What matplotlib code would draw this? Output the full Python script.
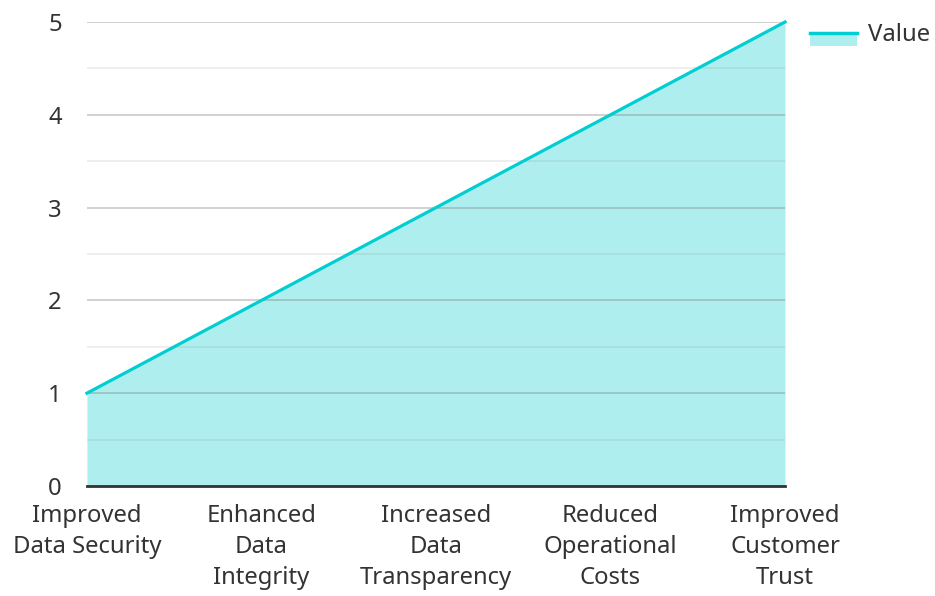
import matplotlib
matplotlib.use("Agg")
import matplotlib.pyplot as plt
from matplotlib.legend_handler import HandlerBase
from matplotlib.patches import Rectangle
from matplotlib.lines import Line2D

categories = ["Improved\nData Security", "Enhanced\nData\nIntegrity",
              "Increased\nData\nTransparency", "Reduced\nOperational\nCosts",
              "Improved\nCustomer\nTrust"]
values = [1, 2, 3, 4, 5]
y_ticks = [0, 1, 2, 3, 4, 5]

line_color = "#00CED1"
fill_color = "#AFEEEE"
text_color = "#333333"
fs = 17.2

plt.rcParams['font.family'] = ['Noto Sans', 'DejaVu Sans']


class AreaHandler(HandlerBase):
    # line on top, filled block underneath, like the reference legend
    def create_artists(self, legend, orig_handle, xdescent, ydescent,
                       width, height, fontsize, trans):
        mid = -ydescent + height * 0.5
        rect = Rectangle((-xdescent, mid - height * 0.8), width, height * 0.8,
                         facecolor=fill_color, edgecolor="none", transform=trans)
        line = Line2D([-xdescent, -xdescent + width], [mid, mid],
                      color=line_color, lw=2.5, transform=trans)
        return [rect, line]


fig = plt.figure(figsize=(9.35, 5.96), dpi=100)
ax = fig.add_axes([0.093, 0.1846, 0.7466, 0.7785])

x = list(range(len(categories)))
area = ax.fill_between(x, values, 0, color=fill_color, lw=0, zorder=1)
ax.plot(x, values, color=line_color, lw=2.3, zorder=3, clip_on=False)

ax.set_xlim(0, len(categories) - 1)
ax.set_ylim(0, 5)
ax.set_yticks(y_ticks)
ax.set_yticks([0.5, 1.5, 2.5, 3.5, 4.5], minor=True)
ax.set_xticks(x)
ax.set_xticklabels(categories, linespacing=1.38)

ax.grid(axis="y", which="major", color="#7a7a7a", alpha=0.4, lw=1.2, zorder=2)
ax.grid(axis="y", which="minor", color="#7a7a7a", alpha=0.15, lw=1.2, zorder=2)
ax.set_axisbelow(False)

for s in ["top", "right", "left"]:
    ax.spines[s].set_visible(False)
ax.spines["bottom"].set_color("#333333")
ax.spines["bottom"].set_linewidth(2)
ax.spines["bottom"].set_zorder(4)

ax.tick_params(axis="both", which="both", length=0, labelsize=fs, colors=text_color)
ax.tick_params(axis="y", pad=18)
ax.tick_params(axis="x", pad=13)

fig.legend([area], ["Value"], handler_map={type(area): AreaHandler()},
           loc="upper left", bbox_to_anchor=(0.866, 0.961), frameon=False,
           borderpad=0, borderaxespad=0,
           fontsize=fs, labelcolor=text_color, handlelength=2.0, handletextpad=0.42)

plt.savefig("out.png", dpi=100)
